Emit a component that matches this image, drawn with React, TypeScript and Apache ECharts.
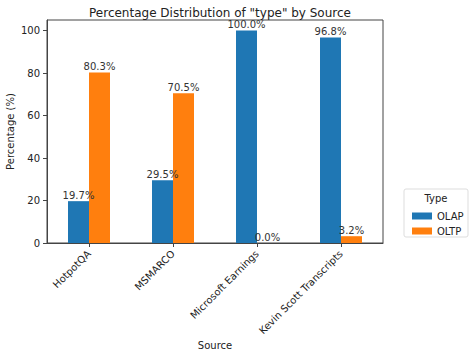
import React, { useEffect, useRef } from "react";
import * as echarts from "echarts";

const categories = ["HotpotQA", "MSMARCO", "Microsoft Earnings", "Kevin Scott Transcripts"];
const olap = [19.7, 29.5, 100.0, 96.8];
const oltp = [80.3, 70.5, 0.0, 3.2];
const yTicks = [0, 20, 40, 60, 80, 100];

const FONT = "DejaVu Sans";

export default function App() {
  const ref = useRef<HTMLDivElement>(null);
  useEffect(() => {
    const chart = echarts.init(ref.current!, null, { renderer: "svg" });
    const labelCfg = {
      show: true,
      position: "top" as const,
      distance: 1,
      fontSize: 10,
      fontFamily: FONT,
      color: "#333",
      formatter: (p: any) => Number(p.value).toFixed(1) + "%",
    };
    chart.setOption({
      animation: false,
      textStyle: { fontFamily: FONT },
      title: {
        text: 'Percentage Distribution of "type" by Source',
        left: 215,
        textAlign: "center",
        top: 2,
        textStyle: { fontSize: 12, fontWeight: "normal", color: "#222", fontFamily: FONT },
      },
      grid: {
        left: 47,
        right: 91,
        top: 20,
        bottom: 111,
        containLabel: false,
        outerBoundsMode: "none",
        show: true,
        borderColor: "#444",
        borderWidth: 1,
        backgroundColor: "transparent",
      },
      legend: {
        orient: "vertical",
        left: 407,
        top: 206,
        itemWidth: 20,
        itemHeight: 7,
        itemGap: 5,
        icon: "rect",
        textStyle: { fontSize: 10, color: "#222", fontFamily: FONT },
        data: ["OLAP", "OLTP"],
      },
      graphic: [
        {
          type: "rect",
          shape: { x: 404, y: 189, width: 64, height: 48, r: 2 },
          style: { fill: "#fff", stroke: "#ddd", lineWidth: 1 },
          z: -1,
        },
        {
          type: "text",
          x: 436,
          y: 198,
          style: {
            text: "Type",
            fontSize: 10,
            fontFamily: FONT,
            fill: "#222",
            textAlign: "center",
            textVerticalAlign: "middle",
          },
        },
      ],
      xAxis: {
        type: "category",
        data: categories,
        name: "Source",
        nameLocation: "middle",
        nameGap: 97,
        nameMoveOverlap: false,
        nameTextStyle: { fontSize: 10, color: "#222", fontFamily: FONT },
        axisLine: { show: true, lineStyle: { color: "#444" } },
        axisTick: { show: true, alignWithLabel: true, length: 4, lineStyle: { color: "#444" } },
        axisLabel: { rotate: 45, fontSize: 10, color: "#222", margin: 9, fontFamily: FONT },
      },
      yAxis: {
        type: "value",
        min: 0,
        max: 105,
        interval: 20,
        name: "Percentage (%)",
        nameLocation: "middle",
        nameGap: 32,
        nameMoveOverlap: false,
        nameTextStyle: { fontSize: 10, color: "#222", fontFamily: FONT },
        splitLine: { show: false },
        axisLine: { show: true, lineStyle: { color: "#444" } },
        axisTick: { show: true, length: 4, lineStyle: { color: "#444" }, customValues: yTicks },
        axisLabel: {
          fontSize: 10,
          color: "#222",
          margin: 7,
          fontFamily: FONT,
          customValues: yTicks,
          formatter: (v: number) => (v % 20 === 0 ? String(v) : ""),
        },
      },
      series: [
        {
          name: "OLAP",
          type: "bar",
          data: olap,
          itemStyle: { color: "#1f77b4" },
          barGap: "0%",
          barCategoryGap: "50%",
          label: labelCfg,
        },
        {
          name: "OLTP",
          type: "bar",
          data: oltp,
          itemStyle: { color: "#ff7f0e" },
          barGap: "0%",
          barCategoryGap: "50%",
          label: labelCfg,
        },
      ],
    });
    return () => chart.dispose();
  }, []);
  return <div ref={ref} style={{ width: 474, height: 354, position: "absolute", left: 0, top: 0 }} />;
}
